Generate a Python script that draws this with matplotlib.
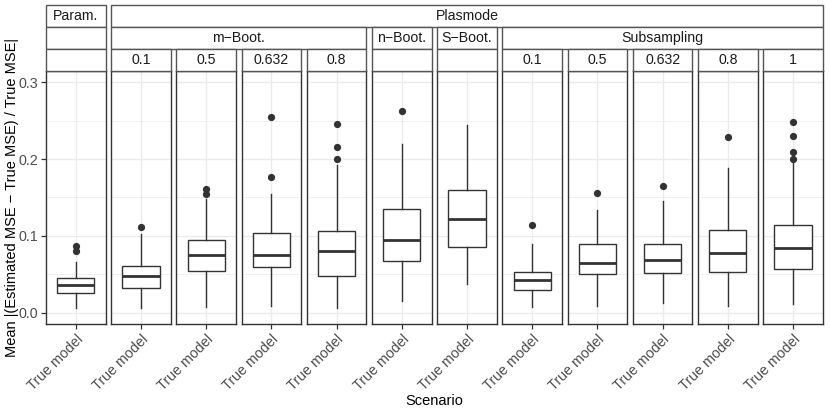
import matplotlib
matplotlib.use("Agg")
import matplotlib.pyplot as plt
from matplotlib.patches import Rectangle

plt.rcParams['font.family'] = ['Liberation Sans', 'DejaVu Sans']

# ---------------- data ----------------
# panel order: Param., m-Boot 0.1/0.5/0.632/0.8, n-Boot, S-Boot, Subsampling 0.1/0.5/0.632/0.8/1
level1 = ["Param.", "Plasmode", "Plasmode", "Plasmode", "Plasmode", "Plasmode", "Plasmode",
          "Plasmode", "Plasmode", "Plasmode", "Plasmode", "Plasmode"]
level2 = ["", "m\u2212Boot.", "m\u2212Boot.", "m\u2212Boot.", "m\u2212Boot.", "n\u2212Boot.", "S\u2212Boot.",
          "Subsampling", "Subsampling", "Subsampling", "Subsampling", "Subsampling"]
level3 = ["", "0.1", "0.5", "0.632", "0.8", "", "", "0.1", "0.5", "0.632", "0.8", "1"]
category = "True model"

whislo = [0.0056, 0.0056, 0.0078, 0.0091, 0.0061, 0.0156, 0.0373, 0.0069, 0.0091, 0.0126, 0.0091, 0.0113]
q1     = [0.0260, 0.0326, 0.0547, 0.0590, 0.0473, 0.0669, 0.0860, 0.0291, 0.0508, 0.0521, 0.0530, 0.0569]
med    = [0.0365, 0.0473, 0.0756, 0.0756, 0.0799, 0.0951, 0.1216, 0.0430, 0.0643, 0.0686, 0.0773, 0.0847]
q3     = [0.0456, 0.0612, 0.0942, 0.1038, 0.1060, 0.1350, 0.1594, 0.0534, 0.0890, 0.0899, 0.1073, 0.1142]
whishi = [0.0660, 0.1025, 0.1480, 0.1546, 0.1928, 0.2197, 0.2449, 0.0894, 0.1337, 0.1450, 0.1885, 0.1971]
fliers = [[0.0800, 0.0868],
          [0.1120],
          [0.1546, 0.1615],
          [0.1770, 0.2553],
          [0.2002, 0.2154, 0.2462],
          [0.2627],
          [],
          [0.1146],
          [0.1559],
          [0.1646],
          [0.2284],
          [0.2002, 0.2093, 0.2297, 0.2484]]

y_ticks = [0.0, 0.1, 0.2, 0.3]
y_tick_labels = ["0.0", "0.1", "0.2", "0.3"]
y_minor = [0.05, 0.15, 0.25]
y_label = "Mean |(Estimated MSE \u2212 True MSE) / True MSE|"
x_label = "Scenario"

# ---------------- layout (pixels) ----------------
W, H = 830, 415
fig = plt.figure(figsize=(W / 100, H / 100), dpi=100)

def fx(x):
    return x / W

def fy(y):
    return 1 - y / H

left0, step, pw = 46.0, 65.2, 59.6
ptop, pbot = 71.0, 324.0
strip_rows = [(5.0, 27.0), (27.0, 49.0), (49.0, 71.0)]

dark = "#333333"
grid_c = "#EBEBEB"
tick_fs = 10.3

n = len(med)
axes = []
for k in range(n):
    x0 = left0 + k * step
    ax = fig.add_axes([fx(x0), fy(pbot), pw / W, (pbot - ptop) / H])
    axes.append(ax)
    stats = [dict(whislo=whislo[k], q1=q1[k], med=med[k], q3=q3[k], whishi=whishi[k],
                  fliers=fliers[k], label=category)]
    ax.bxp(stats, positions=[1], widths=0.75, showcaps=False, patch_artist=True,
           boxprops=dict(facecolor="white", edgecolor=dark, linewidth=1.0),
           medianprops=dict(color=dark, linewidth=2.0, solid_capstyle='butt'),
           whiskerprops=dict(color=dark, linewidth=1.0),
           flierprops=dict(marker='o', markerfacecolor=dark, markeredgecolor=dark,
                           markersize=4.2, linestyle='none'),
           zorder=3)
    ax.set_xlim(0.4, 1.6)
    ax.set_ylim(-0.015, 0.315)
    ax.set_yticks(y_ticks)
    ax.set_yticks(y_minor, minor=True)
    ax.set_xticks([1])
    ax.set_xticklabels([category], rotation=45, ha='right', va='top',
                       rotation_mode='anchor', fontsize=tick_fs, color="#4D4D4D")
    ax.grid(True, which='major', color=grid_c, linewidth=1.0, zorder=0)
    ax.grid(True, which='minor', axis='y', color=grid_c, linewidth=0.5, zorder=0)
    ax.set_axisbelow(True)
    for s in ax.spines.values():
        s.set_color(dark)
        s.set_linewidth(1.0)
    ax.tick_params(axis='both', which='major', length=3.8, width=0.9, color=dark,
                   labelsize=tick_fs, labelcolor="#4D4D4D", pad=2)
    ax.tick_params(axis='y', which='minor', length=0)
    if k == 0:
        ax.set_yticklabels(y_tick_labels)
    else:
        ax.tick_params(axis='y', which='both', left=False, labelleft=False)

# ---------------- strips ----------------
def draw_strip(k0, k1, row, text):
    x0 = left0 + k0 * step
    x1 = left0 + k1 * step + pw
    yt, yb = strip_rows[row]
    rect = Rectangle((fx(x0), fy(yb)), (x1 - x0) / W, (yb - yt) / H,
                     transform=fig.transFigure, facecolor="white",
                     edgecolor="#555555", linewidth=1.0)
    fig.add_artist(rect)
    if text:
        fig.text(fx((x0 + x1) / 2), fy((yt + yb) / 2), text, ha='center', va='center',
                 fontsize=10.2, color="#1A1A1A")

def groups(labels, parents):
    res = []
    start = 0
    for i in range(1, len(labels) + 1):
        if i == len(labels) or labels[i] != labels[start] or parents[i] != parents[start]:
            res.append((start, i - 1, labels[start]))
            start = i
    return res

p1 = [""] * n
p2 = level1
for k0, k1, t in groups(level1, p1):
    draw_strip(k0, k1, 0, t)
for k0, k1, t in groups(level2, p2):
    draw_strip(k0, k1, 1, t)
for k in range(n):
    draw_strip(k, k, 2, level3[k])

fig.text(fx(left0 + ((n - 1) * step + pw) / 2), fy(401), x_label, ha='center', va='center',
         fontsize=10.5, color="black")
fig.text(fx(12), fy((ptop + pbot) / 2), y_label, rotation=90, ha='center', va='center',
         fontsize=10.5, color="black")

fig.savefig("out.png", dpi=100)
